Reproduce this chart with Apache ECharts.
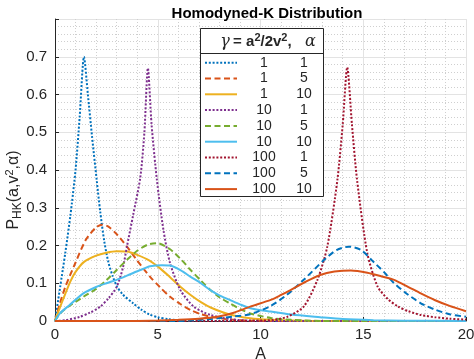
<!DOCTYPE html>
<html>
<head>
<meta charset="utf-8">
<script src="https://cdn.jsdelivr.net/npm/echarts@6/dist/echarts.min.js"></script>
<style>html,body{margin:0;padding:0;background:#fff;}#c{width:474px;height:359px;}</style>
</head>
<body>
<div id="c"></div>
<script>
// ---- data ----
const gammaVals = ['1', '1', '1', '10', '10', '10', '100', '100', '100'];
const alphaVals = ['1', '5', '10', '1', '5', '10', '1', '5', '10'];
const yTicks = [0, 0.1, 0.2, 0.3, 0.4, 0.5, 0.6, 0.7];
const xTicks = [0, 5, 10, 15, 20];

const s1x = [0, 0.25, 0.5, 0.75, 1.0, 1.2, 1.41, 1.6, 1.8, 2.03, 2.2, 2.4, 2.6, 2.8, 3.0, 3.3, 3.8, 4.2, 4.6, 5.0, 5.5, 6, 7, 8, 20];
const s1y = [0, 0.09, 0.18, 0.28, 0.40, 0.54, 0.70, 0.60, 0.49, 0.373, 0.29, 0.21, 0.155, 0.12, 0.093, 0.07, 0.047, 0.03, 0.017, 0.01, 0.005, 0.002, 0.0005, 0, 0];

const s2x = [0, 0.24, 0.5, 1.0, 1.5, 2.0, 2.3, 2.6, 3.0, 3.5, 4.0, 4.63, 5.1, 5.6, 6.1, 6.6, 7.1, 7.6, 8.5, 9.5, 11, 20];
const s2y = [0, 0.047, 0.09, 0.155, 0.215, 0.248, 0.255, 0.25, 0.23, 0.197, 0.16, 0.117, 0.09, 0.064, 0.045, 0.029, 0.018, 0.011, 0.004, 0.001, 0, 0];

const s3x = [0, 0.24, 0.5, 0.75, 1.0, 1.4, 2.0, 2.5, 3.0, 3.5, 4.0, 4.6, 5.1, 5.6, 6.1, 6.6, 7.1, 7.6, 8.5, 9.5, 10.5, 12, 13, 20];
const s3y = [0, 0.036, 0.072, 0.105, 0.13, 0.156, 0.173, 0.181, 0.185, 0.184, 0.175, 0.16, 0.14, 0.116, 0.091, 0.069, 0.05, 0.035, 0.017, 0.007, 0.003, 0.0005, 0, 0];

const s4x = [0, 0.5, 1.2, 1.7, 2.2, 2.6, 3.0, 3.3, 3.5, 3.8, 4.15, 4.35, 4.52, 4.7, 4.96, 5.28, 5.6, 6.1, 6.75, 7.56, 8.5, 9.5, 11, 20];
const s4y = [0, 0.002, 0.011, 0.022, 0.038, 0.06, 0.09, 0.14, 0.197, 0.28, 0.38, 0.50, 0.67, 0.52, 0.373, 0.24, 0.153, 0.082, 0.038, 0.016, 0.005, 0.001, 0, 0];

const s5x = [0, 0.24, 0.7, 1.38, 2.0, 2.52, 3.0, 3.5, 4.0, 4.5, 5.0, 5.6, 6.1, 6.6, 7.1, 7.56, 8.0, 8.5, 9.0, 9.5, 10.5, 11.5, 13, 20];
const s5y = [0, 0.02, 0.04, 0.064, 0.085, 0.109, 0.135, 0.162, 0.186, 0.202, 0.206, 0.19, 0.165, 0.135, 0.107, 0.082, 0.063, 0.047, 0.032, 0.02, 0.008, 0.003, 0, 0];

const s6x = [0, 0.24, 0.7, 1.38, 2.0, 2.5, 3.0, 3.5, 4.15, 4.63, 5.2, 5.6, 6.1, 6.6, 7.1, 7.56, 8.0, 8.5, 9.0, 9.5, 10.5, 11.5, 12.9, 14, 15.5, 17, 20];
const s6y = [0, 0.02, 0.042, 0.073, 0.09, 0.1, 0.109, 0.12, 0.135, 0.145, 0.148, 0.147, 0.135, 0.117, 0.1, 0.082, 0.068, 0.056, 0.044, 0.034, 0.025, 0.017, 0.01, 0.005, 0.002, 0.0008, 0];

const s7x = [0, 9, 10, 10.6, 11.3, 12.1, 12.77, 13.25, 13.74, 14.0, 14.22, 14.45, 14.7, 15.2, 15.7, 16.2, 16.7, 17.2, 17.8, 18.5, 19.2, 20];
const s7y = [0, 0, 0.001, 0.003, 0.011, 0.038, 0.109, 0.197, 0.373, 0.52, 0.672, 0.52, 0.373, 0.179, 0.091, 0.058, 0.038, 0.026, 0.016, 0.01, 0.006, 0.004];

const s8x = [0, 6, 7.0, 7.9, 8.7, 9.5, 10.5, 11.3, 12.1, 13.1, 13.7, 14.3, 14.9, 15.4, 16.0, 16.5, 17.1, 17.8, 18.5, 19.2, 20];
const s8y = [0, 0, 0.003, 0.007, 0.012, 0.018, 0.04, 0.07, 0.109, 0.162, 0.188, 0.197, 0.188, 0.162, 0.13, 0.1, 0.073, 0.047, 0.03, 0.018, 0.011];

const s9x = [0, 4, 5, 6, 7, 7.9, 8.7, 9.5, 10.5, 11.0, 11.46, 12.2, 12.9, 13.6, 14.4, 15.2, 15.9, 16.5, 17.2, 17.8, 18.5, 19.2, 20];
const s9y = [0, 0, 0.001, 0.003, 0.006, 0.011, 0.022, 0.038, 0.056, 0.069, 0.082, 0.104, 0.122, 0.131, 0.134, 0.128, 0.118, 0.109, 0.09, 0.073, 0.055, 0.04, 0.026];

const seriesX = [s1x, s2x, s3x, s4x, s5x, s6x, s7x, s8x, s9x];
const seriesY = [s1y, s2y, s3y, s4y, s5y, s6y, s7y, s8y, s9y];

// ---- styles ----
const colors = ['#0072BD', '#D95319', '#EDB120', '#7E2F8E', '#77AC30', '#4DBEEE', '#A2142F', '#0072BD', '#D95319'];
const DOT = [2, 1.8];
const DASH = [6, 3.5];
const styles = [DOT, DASH, 'solid', DOT, DASH, 'solid', DOT, DASH, 'solid'];
const SANS = '"Liberation Sans", Arial, Helvetica, sans-serif';
const AX = '#262626';

const chart = echarts.init(document.getElementById('c'), null, {renderer: 'canvas'});

const series = seriesX.map((xs, i) => ({
  type: 'line',
  name: 'g' + gammaVals[i] + 'a' + alphaVals[i],
  data: xs.map((x, k) => [x, seriesY[i][k]]),
  showSymbol: false,
  smooth: 0.25,
  lineStyle: {color: colors[i], width: 2, type: styles[i]},
  itemStyle: {color: colors[i]},
  animation: false,
  silent: true,
  z: 3 + i
}));

// legend drawn as graphic
const LX = 200.5, LY = 28.5, LW = 123, LH = 168, SEP = 53.5;
const graphics = [
  {type: 'rect', shape: {x: LX, y: LY, width: LW, height: LH}, style: {fill: '#fff', stroke: AX, lineWidth: 1}, z: 100},
  {type: 'line', shape: {x1: LX, y1: SEP, x2: LX + LW, y2: SEP}, style: {stroke: AX, lineWidth: 1}, z: 101},
  {type: 'text', x: 268, y: 42, z: 101, style: {
    text: '{g|γ} {b|= a}{sup|2}{b|/2v}{sup|2}{b|,}    {g|α}',
    align: 'center', verticalAlign: 'middle',
    rich: {
      g: {font: 'italic 16px "DejaVu Serif", "Liberation Serif", serif', fill: AX},
      b: {font: 'bold 15px ' + SANS, fill: AX},
      sup: {font: 'bold 11px ' + SANS, fill: AX, verticalAlign: 'top', padding: [0, 0, 8, 0]}
    }
  }},
  {type: 'text', x: 14, y: 190, rotation: Math.PI / 2, z: 101, style: {
    text: '{n|P}{sub|HK}{n|(a,v}{sup|2}{n|,α)}',
    align: 'center', verticalAlign: 'middle',
    rich: {
      n: {font: '16px ' + SANS, fill: AX},
      sub: {font: '12px ' + SANS, fill: AX, verticalAlign: 'bottom', padding: [8, 0, 0, 0]},
      sup: {font: '11px ' + SANS, fill: AX, verticalAlign: 'top', padding: [0, 0, 8, 0]}
    }
  }}
];
for (let i = 0; i < gammaVals.length; i++) {
  const y = 62.7 + 15.8 * i;
  graphics.push({type: 'line', shape: {x1: 205, y1: y, x2: 237, y2: y}, z: 101,
    style: {stroke: colors[i], lineWidth: 2, lineDash: styles[i] === 'solid' ? null : styles[i]}});
  graphics.push({type: 'text', x: 264, y: y, z: 101, style: {text: gammaVals[i], font: '14px ' + SANS, fill: AX, align: 'center', verticalAlign: 'middle'}});
  graphics.push({type: 'text', x: 304, y: y, z: 101, style: {text: alphaVals[i], font: '14px ' + SANS, fill: AX, align: 'center', verticalAlign: 'middle'}});
}

chart.setOption({
  animation: false,
  backgroundColor: '#fff',
  title: {
    text: 'Homodyned-K Distribution', left: 262, top: 1, textAlign: 'center',
    textStyle: {fontFamily: SANS, fontSize: 15, fontWeight: 'bold', color: '#000'}
  },
  grid: {left: 55, right: 8, top: 19, bottom: 38, containLabel: false, outerBoundsMode: 'none'},
  xAxis: {
    type: 'value', min: xTicks[0], max: xTicks[xTicks.length - 1], interval: 5,
    name: 'A', nameLocation: 'middle', nameGap: 21,
    nameTextStyle: {fontFamily: SANS, fontSize: 16, color: AX},
    axisLine: {show: true, lineStyle: {color: AX, width: 1}},
    axisTick: {show: true, inside: true, length: 4, lineStyle: {color: AX}},
    axisLabel: {fontFamily: SANS, fontSize: 15, color: AX, margin: 6},
    splitLine: {show: true, lineStyle: {color: '#e3e3e3', width: 1}},
    minorTick: {show: false, splitNumber: 5},
    minorSplitLine: {show: true, lineStyle: {color: '#cfcfcf', width: 1, type: [1, 2]}}
  },
  yAxis: {
    type: 'value', min: yTicks[0], max: 0.8, interval: 0.1,
    axisLine: {show: true, lineStyle: {color: AX, width: 1}},
    axisTick: {show: true, inside: true, length: 4, lineStyle: {color: AX}},
    axisLabel: {fontFamily: SANS, fontSize: 15, color: AX, margin: 8,
      formatter: v => (yTicks.some(t => Math.abs(t - v) < 1e-9) ? String(+v.toFixed(1)) : '')},
    splitLine: {show: true, lineStyle: {color: '#e3e3e3', width: 1}},
    minorTick: {show: false, splitNumber: 5},
    minorSplitLine: {show: true, lineStyle: {color: '#cfcfcf', width: 1, type: [1, 2]}}
  },
  series: series,
  graphic: graphics
});
</script>
</body>
</html>
